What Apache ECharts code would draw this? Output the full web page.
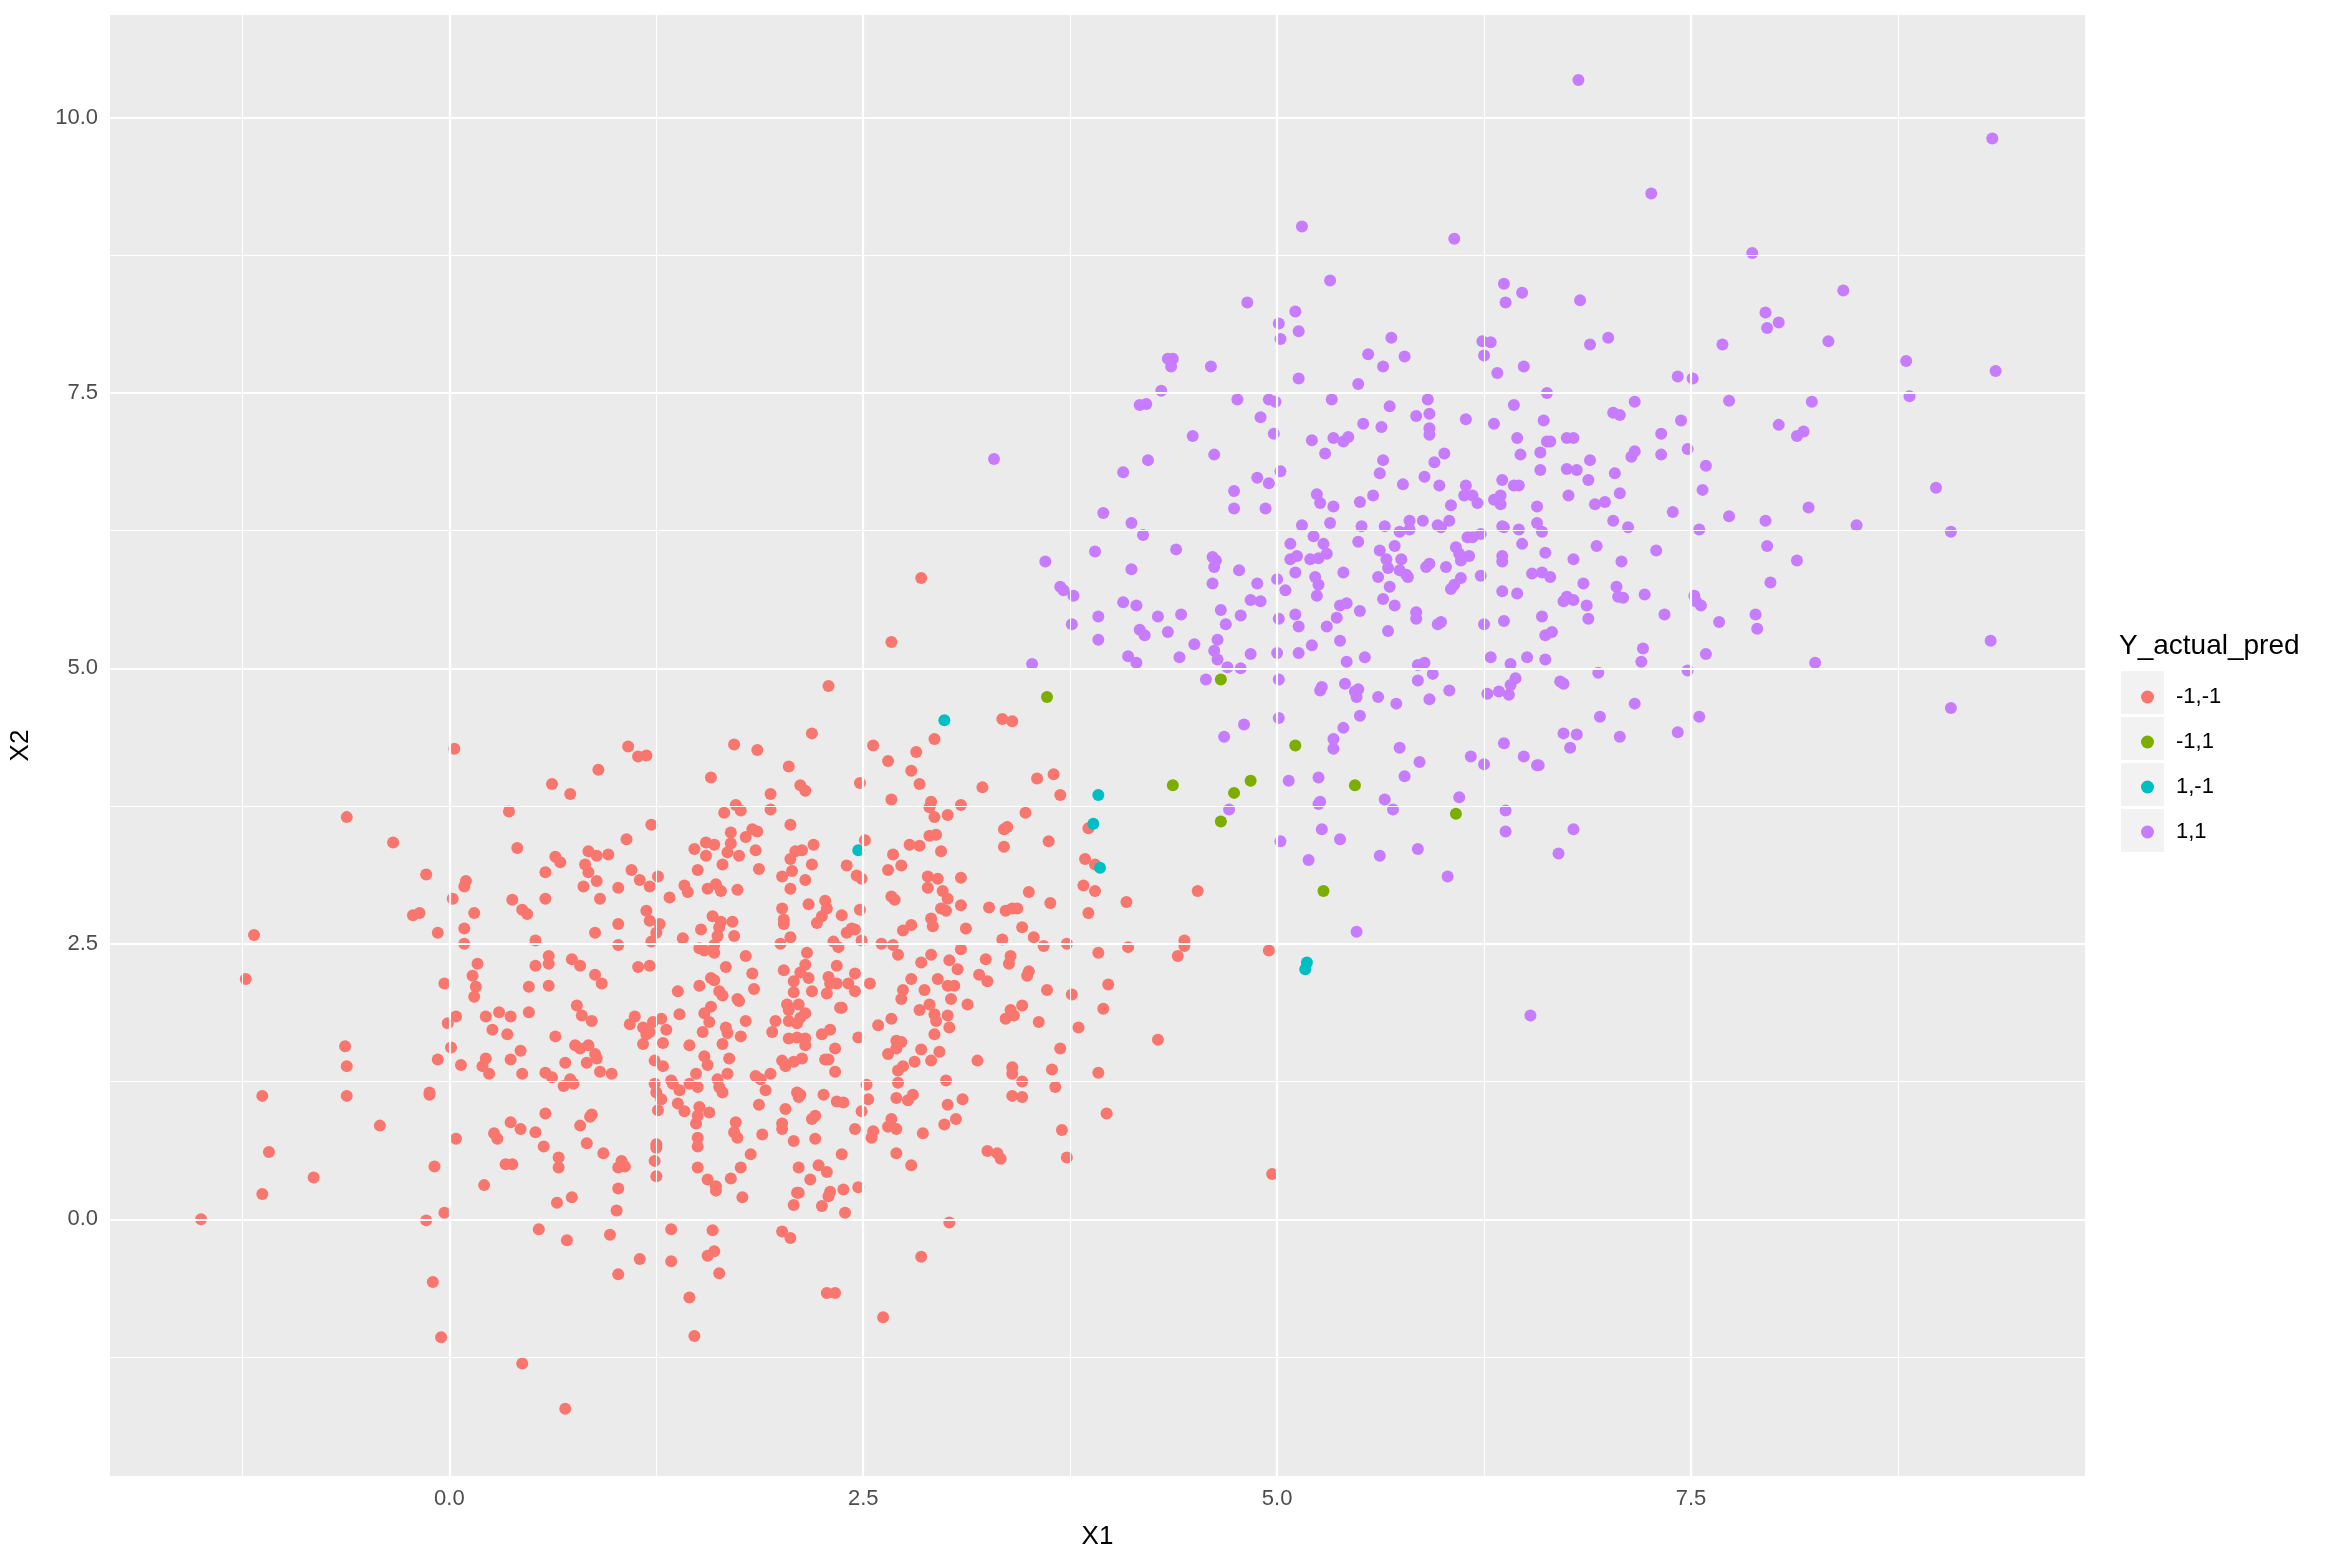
<!DOCTYPE html>
<html><head><meta charset="utf-8">
<script src="https://cdn.jsdelivr.net/npm/echarts@6/dist/echarts.min.js"></script>
<style>html,body{margin:0;padding:0;background:#fff}#c{width:2338px;height:1556px}</style>
</head><body><div id="c"></div>
<script>
const categories = ["-1,-1","-1,1","1,-1","1,1"];
const colors = ["#F8766D","#7CAE00","#00BFC4","#C77CFF"];
const xTicks = [0, 2.5, 5, 7.5];
const yTicks = [0, 2.5, 5, 7.5, 10];
const xMinor = [-1.25, 1.25, 3.75, 6.25, 8.75];
const yMinor = [-1.25, 1.25, 3.75, 6.25, 8.75];

const redPts = [
[-1.50,0.0],[-1.23,2.18],[-1.18,2.58],[-1.13,1.12],[-1.13,0.23],[-1.09,0.61],[-0.82,0.38],[-0.62,3.65],[-0.63,1.57],[-0.62,1.39],[-0.62,1.12],[-0.42,0.85],[-0.34,3.42],[-0.05,-1.07],[0.44,-1.31],[0.70,-1.72],[1.48,-1.06],[2.62,-0.89],[2.29,4.84],[2.67,5.24],[2.85,5.82],[4.95,2.44],[4.97,0.41],
[0.03,4.27],[1.08,4.29],[1.14,4.20],[1.19,4.21],[0.90,4.08],[0.62,3.95],[0.73,3.86],[0.36,3.70],[1.72,4.31],[1.86,4.26],[1.58,4.01],[2.05,4.11],[2.19,4.41],[2.12,3.94],[2.15,3.89],[1.94,3.86],[1.94,3.72],[1.66,3.69],[1.73,3.76],[1.76,3.71],[1.22,3.58],[2.56,4.30],[2.65,4.16],[2.82,4.24],[2.93,4.36],[2.79,4.07],[2.84,3.95],[2.48,3.96],[2.67,3.81],[2.91,3.79],[2.90,3.74],[2.93,3.65],[3.01,3.67],[3.09,3.76],[3.22,3.92],[3.34,4.54],[3.40,4.52],[3.55,4.00],[3.65,4.04],[3.69,3.85],[3.48,3.69],[3.37,3.56],[3.35,3.54],[3.62,3.43],[3.35,3.38],[3.86,3.55],[2.90,3.48],[2.94,3.49],[2.97,3.34],[2.78,3.40],[2.84,3.39],[2.68,3.31],[2.51,3.44],[2.73,3.21],[2.65,3.17],[2.40,3.21],[2.46,3.12],[2.49,3.09],[2.06,3.58],[2.20,3.40],[2.09,3.34],[2.13,3.35],[2.06,3.27],[2.19,3.22],[2.07,3.16],[2.01,3.11],[2.06,3.00],[2.15,3.08],[1.86,3.52],[1.83,3.54],[1.79,3.47],[1.70,3.51],[1.70,3.41],[1.68,3.33],[1.75,3.30],[1.65,3.22],[1.85,3.35],[1.87,3.18],[1.55,3.42],[1.60,3.40],[1.48,3.36],[1.55,3.30],[1.50,3.17],[1.07,3.45],[0.84,3.34],[0.89,3.30],[0.96,3.31],[0.41,3.37],[0.64,3.29],[0.67,3.24],[0.58,3.15],[0.82,3.22],[0.84,3.15],[0.89,3.07],[0.81,3.02],[0.91,2.91],[1.02,3.01],[1.10,3.17],[1.15,3.08],[1.21,3.02],[1.26,3.11],[1.33,2.92],[1.42,3.03],[1.44,2.97],[1.56,3.00],[1.61,3.04],[1.64,2.98],[1.74,2.99],
[-0.14,3.13],[0.10,3.07],[0.09,3.02],[0.02,2.91],[0.38,2.90],[0.58,2.91],[0.15,2.78],[0.44,2.81],[0.47,2.77],[-0.22,2.76],[-0.18,2.78],[-0.07,2.60],[0.09,2.64],[0.09,2.50],[0.52,2.53],[0.88,2.60],[1.02,2.68],[1.02,2.49],[1.19,2.80],[1.21,2.71],[1.27,2.68],[1.25,2.60],[1.22,2.52],[1.41,2.55],[1.52,2.63],[1.59,2.75],[1.64,2.70],[1.71,2.70],[1.63,2.65],[1.62,2.57],[1.60,2.49],[1.60,2.42],[1.51,2.46],[1.54,2.44],[1.72,2.57],[2.01,2.82],[2.02,2.72],[2.02,2.68],[2.06,2.56],[2.00,2.50],[2.17,2.86],[2.27,2.89],[2.28,2.82],[2.25,2.75],[2.22,2.69],[2.37,2.76],[2.48,2.81],[2.43,2.64],[2.40,2.60],[2.45,2.63],[2.49,2.53],[2.32,2.52],[2.35,2.47],[2.61,2.50],[2.68,2.49],[2.71,2.40],[2.74,2.62],[2.79,2.67],[2.91,2.73],[2.92,2.66],[2.89,3.11],[2.95,3.09],[2.89,3.01],[2.67,2.93],[2.69,2.90],[2.98,2.98],[3.01,2.91],[2.97,2.82],[3.00,2.80],[3.09,3.10],[3.09,2.85],[3.12,2.64],[3.26,2.83],[3.36,2.80],[3.40,2.82],[3.43,2.82],[3.50,2.97],[3.63,2.87],[3.83,3.03],[3.90,2.98],[3.86,2.78],[3.84,3.27],[3.90,3.22],[4.09,2.88],[4.52,2.98],[3.46,2.65],[3.53,2.56],[3.34,2.54],[3.59,2.48],[3.73,2.50],[3.92,2.42],[4.10,2.47],[4.44,2.53],[4.44,2.48],[4.40,2.39],[3.09,2.45],[2.91,2.40],[3.02,2.35],[3.07,2.27],[3.24,2.36],[3.39,2.39],[3.38,2.32],[3.50,2.25],[3.49,2.21],[3.20,2.22],[3.25,2.16],[2.85,2.33],[2.79,2.18],[2.74,2.08],[2.73,2.00],[2.87,2.08],[2.95,2.18],[3.01,2.12],[3.05,2.12],[3.03,2.00],[3.13,1.95],[2.84,1.90],[2.90,1.95],[2.93,1.86],[2.94,1.80],[3.01,1.85],[3.02,1.74],[2.93,1.68],[3.61,2.08],[3.76,2.04],[3.98,2.13],[3.95,1.91],[3.80,1.74],[3.46,1.94],[3.39,1.90],[3.41,1.85],[3.36,1.82],[3.56,1.79],[4.28,1.63],[3.69,1.55],[3.19,1.44],[3.40,1.38],[3.40,1.32],[3.46,1.25],[3.64,1.36],[3.66,1.20],[3.92,1.33],[3.40,1.12],[3.46,1.11],[3.10,1.09],[3.00,1.26],[3.01,1.04],[2.99,0.86],[3.06,0.91],[2.86,0.78],[3.70,0.81],[3.97,0.96],[3.73,0.56],[3.25,0.62],[3.31,0.60],[3.33,0.55],[2.70,0.60],[2.79,0.49],[3.02,-0.03],[2.85,-0.34],
[2.67,0.91],[2.65,0.84],[2.70,0.82],[2.56,0.80],[2.55,0.74],[2.45,0.82],[2.49,0.98],[2.53,1.09],[2.52,1.22],[2.70,1.10],[2.77,1.08],[2.80,1.13],[2.71,1.24],[2.71,1.35],[2.74,1.39],[2.70,1.62],[2.73,1.61],[2.65,1.50],[2.70,1.55],[2.81,1.43],[2.85,1.54],[2.91,1.44],[2.96,1.52],[2.67,1.82],[2.59,1.76],[2.47,1.65],[2.34,1.07],[2.38,1.06],[2.33,1.34],[2.33,1.55],[2.29,1.45],[2.27,1.45],[2.37,1.92],[2.30,1.72],[2.25,1.68],[2.26,1.13],[2.10,1.15],[2.11,1.11],[2.21,0.94],[2.19,0.91],[2.21,0.73],[2.37,0.59],[2.11,0.47],[2.23,0.49],[2.28,0.43],[2.18,0.36],[2.10,0.24],[2.11,0.24],[2.08,0.13],[2.25,0.12],[2.30,0.25],[2.29,0.21],[2.38,0.27],[2.47,0.29],[2.39,0.06],[2.01,-0.11],[2.06,-0.17],[2.28,-0.67],[2.33,-0.67],[2.08,0.71],[2.03,1.00],[2.01,0.87],[2.01,0.82],[1.87,1.04],[1.89,0.77],[1.82,0.59],[1.91,1.17],[1.88,1.27],[1.85,1.30],[1.94,1.32],[2.12,1.13],[2.01,1.44],[2.03,1.39],[2.08,1.43],[2.13,1.46],[2.05,1.64],[2.10,1.65],[2.15,1.64],[2.15,1.58],[1.95,1.70],[1.97,1.80],[2.05,1.80],[2.10,1.78],[2.12,1.83],[2.05,1.90],[2.04,1.95],[2.11,1.95],[2.15,1.87],[2.08,2.06],[2.08,2.16],[2.12,2.24],[2.15,2.31],[2.16,2.42],[2.17,2.19],[2.19,2.07],[2.28,2.05],[2.29,2.20],[2.30,2.14],[2.34,2.14],[2.34,2.30],[2.36,1.92],[2.41,2.14],[2.45,2.23],[2.45,2.07],[2.54,2.14],[2.02,2.26],[1.84,2.09],[1.83,2.23],[1.79,2.39],[1.67,2.29],[1.58,2.19],[1.60,2.17],[1.63,2.07],[1.65,2.03],[1.74,2.00],[1.75,1.98],[1.51,2.12],[1.38,2.07],[1.58,1.93],[1.54,1.87],[1.53,1.70],[1.57,1.79],[1.67,1.74],[1.68,1.69],[1.79,1.80],[1.76,1.66],[1.65,1.59],[1.69,1.46],[1.54,1.48],[1.56,1.40],[1.49,1.32],[1.62,1.27],[1.63,1.20],[1.65,1.15],[1.68,1.32],[1.45,1.23],[1.50,1.20],[1.39,1.17],[1.34,1.26],[1.35,1.23],[1.24,1.23],[1.25,1.15],[1.28,1.09],[1.38,1.05],[1.42,0.98],[1.26,0.99],[1.51,1.02],[1.50,0.94],[1.57,0.97],[1.49,0.87],[1.73,0.88],[1.72,0.79],[1.74,0.74],[1.50,0.74],[1.50,0.66],[1.25,0.68],[1.25,0.65],[1.24,0.53],[1.25,0.39],[1.50,0.47],[1.56,0.36],[1.61,0.30],[1.61,0.26],[1.70,0.37],[1.76,0.47],[1.77,0.20],[1.59,-0.10],[1.60,-0.29],[1.56,-0.33],[1.63,-0.49],[1.34,-0.09],[1.34,-0.38],[1.15,-0.36],[1.45,-0.71],[1.02,-0.50],[0.97,-0.14],[0.71,-0.19],[0.54,-0.09],[1.01,0.08],[1.02,0.28],[0.65,0.15],[0.74,0.20],[0.21,0.31],[-0.03,0.06],[-0.14,-0.01],[-0.10,-0.57],[-0.09,0.48],[0.04,0.73],[0.34,0.50],[0.38,0.50],[0.66,0.56],[0.66,0.47],[0.57,0.66],[0.52,0.79],[0.43,0.82],[0.37,0.88],[0.27,0.78],[0.29,0.73],[0.58,0.96],[0.79,0.85],[0.86,0.95],[0.85,0.93],[0.83,0.69],[0.93,0.60],[1.02,0.47],[1.06,0.48],[1.04,0.53],[-0.12,1.13],[-0.12,1.15],[-0.07,1.45],[0.07,1.40],[0.01,1.56],[0.20,1.39],[0.22,1.46],[0.24,1.32],[0.37,1.45],[0.43,1.53],[0.44,1.32],[0.58,1.33],[0.62,1.29],[0.70,1.42],[0.69,1.21],[0.75,1.23],[0.73,1.27],[0.76,1.58],[0.79,1.55],[0.84,1.58],[0.89,1.46],[0.88,1.50],[0.83,1.42],[0.91,1.34],[0.98,1.32],[0.64,1.66],[0.35,1.68],[0.26,1.72],[0.22,1.84],[0.30,1.88],[0.37,1.84],[0.48,1.88],[-0.01,1.78],[0.04,1.84],[0.17,2.32],[0.14,2.21],[0.16,2.11],[0.15,2.02],[-0.03,2.14],[0.52,2.30],[0.60,2.39],[0.60,2.32],[0.48,2.11],[0.60,2.12],[0.74,2.36],[0.79,2.30],[0.88,2.22],[0.92,2.14],[0.77,1.94],[0.80,1.85],[0.86,1.80],[1.09,1.77],[1.12,1.84],[1.17,1.74],[1.19,1.68],[1.21,1.70],[1.17,1.59],[1.23,1.79],[1.28,1.82],[1.31,1.72],[1.29,1.60],[1.39,1.86],[1.45,1.58],[1.24,1.44],[1.29,1.39],[1.14,2.29],[1.21,2.30]
];
const greenPts = [[3.61,4.74],[4.66,4.90],[4.37,3.94],[4.84,3.98],[4.74,3.87],[4.66,3.61],[5.11,4.30],[5.47,3.94],[5.28,2.98],[6.08,3.68]];
const cyanPts = [[2.99,4.53],[2.47,3.35],[3.92,3.85],[3.89,3.59],[3.93,3.19],[5.18,2.33],[5.17,2.27]];
const purplePts = [
[6.82,10.34],[9.32,9.81],[7.26,9.31],[5.15,9.01],[6.07,8.90],[7.87,8.77],[6.53,1.85],
[5.32,8.52],[4.82,8.32],[5.11,8.24],[5.01,8.13],[5.02,7.99],[5.13,8.06],[6.37,8.49],[6.48,8.41],[6.38,8.32],[5.69,8.00],[5.55,7.85],[5.64,7.74],[5.77,7.83],[6.24,7.97],[6.29,7.96],[6.25,7.84],[6.33,7.68],[6.49,7.74],[5.13,7.63],[5.49,7.58],[6.63,7.50],[4.34,7.81],[4.37,7.81],[4.36,7.74],[4.60,7.74],[4.30,7.52],[4.17,7.39],[4.21,7.40],[4.76,7.44],[4.95,7.44],[4.99,7.42],[4.90,7.28],[4.98,7.13],[5.33,7.44],[5.68,7.38],[5.52,7.22],[5.63,7.19],[5.84,7.29],[5.92,7.31],[5.91,7.44],[5.92,7.18],[5.92,7.12],[6.14,7.26],[6.31,7.22],[6.43,7.39],[6.61,7.25],[6.63,7.06],[6.45,7.09],[6.47,6.94],[6.59,6.96],[6.59,6.80],[4.49,7.11],[5.21,7.07],[5.34,7.09],[5.40,7.06],[5.43,7.10],[5.29,6.95],[4.62,6.94],[3.29,6.90],[4.22,6.89],[4.07,6.78],[5.02,6.79],[4.88,6.73],[4.95,6.68],[4.74,6.61],[4.74,6.45],[4.93,6.45],[5.64,6.89],[5.62,6.77],[5.95,6.87],[6.01,6.95],[5.89,6.74],[5.98,6.66],[5.76,6.67],[5.58,6.57],[5.50,6.51],[5.24,6.58],[5.26,6.50],[5.34,6.47],[5.32,6.32],[5.15,6.30],[5.51,6.29],[5.65,6.29],[5.74,6.24],[5.80,6.34],[5.80,6.26],[5.88,6.34],[5.97,6.30],[5.99,6.28],[6.04,6.34],[6.05,6.48],[6.14,6.66],[6.13,6.57],[6.18,6.57],[6.21,6.50],[6.36,6.71],[6.43,6.66],[6.46,6.66],[6.31,6.53],[6.35,6.57],[6.35,6.49],[6.57,6.47],[6.57,6.32],[6.60,6.24],[6.36,6.29],[6.37,6.28],[6.46,6.26],[6.48,6.13],[6.23,6.22],[6.15,6.19],[6.18,6.19],[6.08,6.10],[6.10,6.04],[6.11,5.98],[6.16,6.02],[6.62,6.05],[6.54,5.86],[6.60,5.87],[6.23,5.84],[6.36,6.02],[6.36,5.97],[6.02,5.92],[5.92,5.95],[5.90,5.92],[5.75,5.99],[5.74,5.89],[5.78,5.85],[5.79,5.83],[5.66,5.99],[5.67,5.91],[5.62,6.07],[5.71,6.11],[5.49,6.15],[5.61,5.83],[5.68,5.74],[5.64,5.63],[5.71,5.57],[6.11,5.82],[6.07,5.76],[6.05,5.72],[6.36,5.70],[6.45,5.68],[5.84,5.51],[5.84,5.45],[5.97,5.40],[5.99,5.42],[5.67,5.34],[6.25,5.40],[6.37,5.43],[6.60,5.47],[6.62,5.30],[6.29,5.10],[6.41,5.04],[6.51,5.10],[6.62,5.08],[5.85,5.03],[5.89,5.05],[5.94,4.95],[5.85,4.89],[6.04,4.80],[5.92,4.72],[6.27,4.77],[6.34,4.79],[6.40,4.76],[6.41,4.85],[6.44,4.91],[6.37,4.32],[6.17,4.20],[6.25,4.13],[6.49,4.20],[6.57,4.12],[6.38,3.71],[6.38,3.52],[6.10,3.83],[6.03,3.11],[5.85,3.36],[5.86,4.15],[5.77,4.02],[5.74,4.28],[5.70,3.72],[5.65,3.81],[5.62,3.30],[5.72,4.68],[5.61,4.74],[5.50,4.57],[5.47,4.79],[5.48,4.74],[5.49,4.81],[5.41,4.86],[5.42,5.06],[5.53,5.10],[5.40,4.46],[5.34,4.36],[5.34,4.27],[5.25,4.01],[5.26,3.79],[5.25,3.77],[5.27,3.54],[5.38,3.45],[5.19,3.26],[5.02,3.43],[5.07,3.98],[5.01,4.55],[5.01,4.90],[5.26,4.80],[5.27,4.83],[5.48,2.61],[4.71,3.72],[4.68,4.38],[4.80,4.49],[4.57,4.90],[4.70,5.01],[4.78,5.00],[4.64,5.08],[4.62,5.16],[4.64,5.26],[4.84,5.13],[5.00,5.14],[5.13,5.14],[5.21,5.21],[5.38,5.25],[5.30,5.38],[5.36,5.46],[5.38,5.57],[5.42,5.59],[5.50,5.52],[5.24,5.66],[5.25,5.76],[5.23,5.83],[5.13,5.38],[5.11,5.49],[5.01,5.45],[5.05,5.71],[5.00,5.81],[5.11,5.87],[5.08,5.99],[5.12,6.02],[5.08,6.13],[5.20,5.99],[5.25,6.00],[5.30,6.04],[5.28,6.13],[5.22,6.20],[5.40,5.87],[4.90,5.61],[4.84,5.62],[4.88,5.77],[4.77,5.89],[4.78,5.48],[4.69,5.40],[4.66,5.53],[4.61,5.77],[4.62,5.92],[4.61,6.01],[4.63,5.98],[4.39,6.08],[4.50,5.22],[4.41,5.10],[4.42,5.49],[4.34,5.33],[4.28,5.47],[4.15,5.57],[4.07,5.60],[4.17,5.35],[4.20,5.30],[4.10,5.11],[4.15,5.05],[3.92,5.47],[3.92,5.26],[3.76,5.40],[3.77,5.66],[3.69,5.74],[3.71,5.71],[3.60,5.97],[3.52,5.04],[3.90,6.06],[4.12,5.90],[4.12,6.32],[4.19,6.21],[3.95,6.41],
[6.83,8.34],[6.89,7.94],[7.00,8.00],[7.95,8.23],[7.96,8.09],[8.03,8.14],[8.42,8.43],[7.69,7.94],[8.33,7.97],[8.80,7.79],[9.34,7.70],[7.42,7.65],[7.51,7.63],[7.16,7.42],[7.73,7.43],[8.23,7.42],[8.82,7.47],[7.03,7.32],[7.07,7.30],[7.44,7.25],[8.03,7.21],[8.14,7.11],[8.18,7.15],[7.32,7.13],[6.65,7.06],[6.75,7.09],[6.79,7.09],[7.14,6.92],[7.16,6.97],[7.32,6.94],[7.48,6.99],[7.59,6.84],[6.89,6.89],[6.75,6.81],[6.81,6.80],[6.88,6.71],[7.04,6.77],[7.57,6.62],[6.76,6.57],[7.07,6.59],[6.92,6.49],[6.98,6.51],[8.98,6.64],[8.21,6.46],[7.39,6.42],[7.73,6.38],[7.95,6.34],[8.50,6.30],[7.03,6.34],[7.12,6.28],[7.55,6.26],[9.07,6.24],[6.93,6.11],[7.96,6.11],[7.29,6.07],[6.79,5.99],[7.08,5.97],[8.14,5.98],[6.65,5.83],[6.85,5.77],[7.98,5.78],[7.05,5.74],[7.06,5.65],[7.09,5.64],[7.22,5.67],[6.75,5.65],[6.79,5.62],[6.73,5.61],[6.87,5.57],[6.88,5.45],[7.52,5.66],[7.53,5.61],[7.56,5.57],[7.34,5.49],[7.67,5.42],[7.89,5.49],[7.90,5.36],[6.66,5.33],[7.21,5.18],[7.20,5.06],[7.59,5.13],[9.31,5.25],[8.25,5.05],[7.48,4.98],[6.94,4.96],[6.71,4.88],[6.73,4.86],[7.16,4.68],[6.95,4.56],[7.55,4.56],[9.07,4.64],[6.73,4.41],[6.81,4.40],[6.77,4.28],[7.07,4.38],[7.42,4.42],[6.58,4.12],[6.79,3.54],[6.70,3.32]
];

const seriesPts = [redPts, greenPts, cyanPts, purplePts];
const chart = echarts.init(document.getElementById('c'));
const gridLines = [];
xTicks.forEach(v => gridLines.push({xAxis: v, lineStyle: {width: 2.2}}));
yTicks.forEach(v => gridLines.push({yAxis: v, lineStyle: {width: 2.2}}));
xMinor.forEach(v => gridLines.push({xAxis: v, lineStyle: {width: 1.1}}));
yMinor.forEach(v => gridLines.push({yAxis: v, lineStyle: {width: 1.1}}));
const tickLbl = v => v.toFixed(1);
const FONT = 'Liberation Sans Narrow, Liberation Sans, Arial';
const axisCommon = {
  axisLine: {show: false},
  axisTick: {show: true, length: 6, lineStyle: {color: '#333', width: 2}},
  splitLine: {show: false},
  axisLabel: {color: '#4D4D4D', fontSize: 22, fontFamily: FONT, formatter: tickLbl},
  nameTextStyle: {color: '#000', fontSize: 26, fontFamily: FONT}
};
const keyBoxes = [0,1,2,3].map(i => ({type: 'rect', shape: {x: 2121, y: 671 + i*46, width: 43, height: 43}, style: {fill: '#F2F2F2'}, z: 0}));
chart.setOption({
  animation: false,
  backgroundColor: '#fff',
  grid: {left: 110, right: 253, top: 15, bottom: 80, show: true, backgroundColor: '#EBEBEB', borderWidth: 0},
  xAxis: Object.assign({}, axisCommon, {type: 'value', min: -2.05, max: 9.88, name: 'X1', nameLocation: 'middle', nameGap: 48,
    axisLabel: Object.assign({}, axisCommon.axisLabel, {customValues: xTicks, margin: 12}),
    axisTick: Object.assign({}, axisCommon.axisTick, {customValues: xTicks})}),
  yAxis: Object.assign({}, axisCommon, {type: 'value', min: -2.33, max: 10.93, name: 'X2', nameLocation: 'middle', nameGap: 76,
    axisLabel: Object.assign({}, axisCommon.axisLabel, {customValues: yTicks, margin: 12}),
    axisTick: Object.assign({}, axisCommon.axisTick, {customValues: yTicks})}),
  legend: {orient: 'vertical', left: 2136, top: 681, itemWidth: 13, itemHeight: 13, itemGap: 23, icon: 'circle',
    data: categories, textStyle: {fontSize: 22, color: '#000', fontFamily: FONT, padding: [0,0,0,17]}},
  graphic: keyBoxes.concat([{type: 'text', left: 2119, top: 632, style: {text: 'Y_actual_pred', fontSize: 28, fill: '#000', fontFamily: FONT}}]),
  series: [{type: 'scatter', data: [], z: 1, silent: true,
      markLine: {silent: true, symbol: 'none', animation: false, label: {show: false}, lineStyle: {color: '#fff', type: 'solid'}, data: gridLines}}]
    .concat(categories.map((c, i) => ({name: c, type: 'scatter', data: seriesPts[i], symbolSize: 12, z: 3,
      itemStyle: {color: colors[i], opacity: 1}})))
});
</script></body></html>
